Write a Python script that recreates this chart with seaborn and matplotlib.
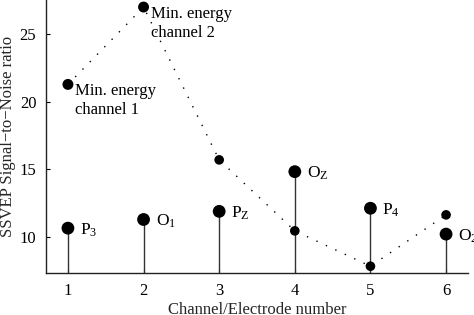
import matplotlib
matplotlib.use("Agg")
import matplotlib.pyplot as plt
import seaborn as sns
import pandas as pd

# ---- data ----
channels = [1, 2, 3, 4, 5, 6]
electrode_snr = [10.66, 11.3, 11.9, 14.83, 12.13, 10.22]
electrode_labels = [r"P$_3$", r"O$_1$", r"P$_\mathrm{Z}$", r"O$_\mathrm{Z}$", r"P$_4$", r"O$_2$"]
channel_snr = [21.27, 26.98, 15.7, 10.46, 7.85, 11.64]
channel_notes = {1: "Min. energy\nchannel 1", 2: "Min. energy\nchannel 2"}
xticks = [1, 2, 3, 4, 5, 6]
yticks = [10, 15, 20, 25]

sns.set_theme(style="ticks")
plt.rcParams["font.family"] = ["Liberation Serif", "DejaVu Serif"]
plt.rcParams["mathtext.fontset"] = "custom"
plt.rcParams["mathtext.rm"] = "Liberation Serif"
plt.rcParams["mathtext.it"] = "Liberation Serif:italic"

fig = plt.figure(figsize=(4.74, 3.15), dpi=100)
ax = fig.add_axes([46 / 474, 1 - 273 / 315, (468 - 46) / 474, 273 / 315])

ylo, yhi = 7.35, 27.5
ax.set_xlim(0.71, 6.29)
ax.set_ylim(ylo, yhi)

df_e = pd.DataFrame({"x": channels, "y": electrode_snr})
df_c = pd.DataFrame({"x": channels, "y": channel_snr})

# stems
ax.vlines(df_e["x"], ylo, df_e["y"], color="#333333", linewidth=1.0, zorder=2)
sns.scatterplot(data=df_e, x="x", y="y", ax=ax, color="black", s=85,
                edgecolor="none", zorder=3)

# dotted channel line
sns.lineplot(data=df_c, x="x", y="y", ax=ax, color="black", linewidth=1.0,
             linestyle=(0, (1, 6.5)), zorder=2)
sizes = [62 if c in channel_notes else 48 for c in channels]
ax.scatter(df_c["x"], df_c["y"], s=sizes, color="black", edgecolor="none", zorder=3)

for x, y, lab in zip(channels, electrode_snr, electrode_labels):
    ax.annotate(lab, (x, y), xytext=(12, -6), textcoords="offset pixels",
                fontsize=12.5, va="baseline", ha="left", color="black")

for x, y in zip(channels, channel_snr):
    if x in channel_notes:
        ax.annotate(channel_notes[x], (x, y), xytext=(7, 1), textcoords="offset pixels",
                    fontsize=12, va="top", ha="left", color="black", linespacing=1.25)

ax.set_xticks(xticks)
ax.set_yticks(yticks)
ax.tick_params(direction="in", length=3, width=0.8, labelsize=12, colors="black",
               pad=7)
for s in ["top", "right"]:
    ax.spines[s].set_visible(False)
for s in ["left", "bottom"]:
    ax.spines[s].set_linewidth(1.0)
    ax.spines[s].set_color("#222222")

ax.set_xlabel("Channel/Electrode number", fontsize=12, va="top")
ax.set_ylabel("SSVEP Signal\u2212to\u2212Noise ratio", fontsize=12)
ax.xaxis.set_label_coords(0.5, -0.105)
ax.yaxis.set_label_coords(-0.072, 0.5)

fig.savefig("out.png", dpi=100)
